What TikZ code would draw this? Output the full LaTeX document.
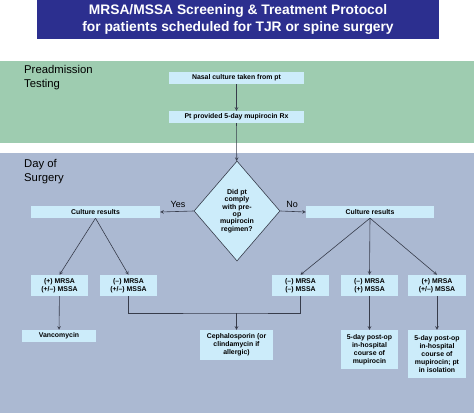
\documentclass[tikz,border=0pt]{standalone}
\usepackage{fontspec}
\setmainfont{Liberation Sans}
\usetikzlibrary{shapes.geometric}

\definecolor{titleblue}{RGB}{44,47,143}
\definecolor{preband}{RGB}{158,204,176}
\definecolor{dayband}{RGB}{171,185,210}
\definecolor{boxcyan}{RGB}{204,236,250}
\definecolor{linegray}{RGB}{55,60,75}

\tikzset{
  cbox/.style={fill=boxcyan,inner sep=0,align=center,font=\bfseries\fontsize{6.9}{8}\selectfont},
  link/.style={draw=linegray,line width=0.6pt},
  arr/.style={link,-stealth},
  band label/.style={anchor=north west,inner sep=0,align=left,font=\fontsize{11.3}{13.3}\selectfont},
}

\begin{document}
\begin{tikzpicture}[x=1pt,y=-1pt]
        \useasboundingbox (0,0) rectangle (474,417);
        % title and the two bands
        \fill[titleblue] (37,-2) rectangle (439,39);
        \node[text=white,align=center,font=\bfseries\fontsize{13.8}{17}\selectfont] (title) at (238,19.5) {MRSA/MSSA Screening \& Treatment Protocol\\for patients scheduled for TJR or spine surgery};
        \fill[preband] (0,61) rectangle (474,143);
        \fill[dayband] (0,153) rectangle (474,413);
        \node[band label] (pre) at (24,65.5) {Preadmission\\Testing};
        \node[band label] (day) at (24,159.5) {Day of\\Surgery};

        % boxes
        \node[cbox,minimum width=135,minimum height=12] (nasal) at (236.5,78) {Nasal culture taken from pt};
        \node[cbox,minimum width=135,minimum height=12] (rx) at (236.5,117) {Pt provided 5-day mupirocin Rx};
        \node[diamond,fill=boxcyan,draw=linegray,line width=0.6pt,inner sep=0,minimum width=86,minimum height=100,align=center,font=\bfseries\fontsize{7}{7.3}\selectfont] (comply) at (237,211) {Did pt\\comply\\with pre-\\op\\mupirocin\\regimen?};
        \node[cbox,minimum width=129,minimum height=12] (cleft) at (95.5,212) {Culture results};
        \node[cbox,minimum width=128,minimum height=12] (cright) at (370,212) {Culture results};
        \node[cbox,minimum width=57,minimum height=21] (r1) at (59.5,285.5) {(+) MRSA\\(+/--) MSSA};
        \node[cbox,minimum width=57,minimum height=21] (r2) at (128.5,285.5) {(--) MRSA\\(+/--) MSSA};
        \node[cbox,minimum width=57,minimum height=21] (r3) at (300.5,285.5) {(--) MRSA\\(--) MSSA};
        \node[cbox,minimum width=57,minimum height=21] (r4) at (369.5,285.5) {(--) MRSA\\(+) MSSA};
        \node[cbox,minimum width=58,minimum height=21] (r5) at (437,285.5) {(+) MRSA\\(+/--) MSSA};
        \node[cbox,minimum width=74,minimum height=12] (vanco) at (59,336) {Vancomycin};
        \node[cbox,minimum width=73,minimum height=30] (ceph) at (236.5,345) {Cephalosporin (or\\clindamycin if\\allergic)};
        \node[cbox,minimum width=57,minimum height=39] (post4) at (369.5,349.5) {5-day post-op\\in-hospital\\course of\\mupirocin};
        \node[cbox,minimum width=58,minimum height=48] (post5) at (437,354) {5-day post-op\\in-hospital\\course of\\mupirocin; pt\\in isolation};

        % connectors
        \draw[arr] (nasal) -- (rx);
        \draw[arr] (rx) -- (comply);
        \draw[arr] (comply.west) -- node[above,font=\fontsize{9}{10}\selectfont,xshift=1pt] {Yes} (cleft.east);
        \draw[arr] (comply.east) -- node[above,font=\fontsize{9}{10}\selectfont,xshift=-1pt] {No} (cright.west);
        \draw[arr] (cleft.south) -- (r1.north);
        \draw[arr] (cleft.south) -- (r2.north);
        \draw[arr] (cright.south) -- (r3.north);
        \draw[arr] (cright.south) -- (r4.north);
        \draw[arr] (cright.south) -- (r5.north);
        \draw[arr] (r1) -- (vanco);
        \coordinate (merge) at (236.5,313);
        \draw[link] (r2.south) |- (merge) -| (r3.south);
        \draw[arr] (merge) -- (ceph);
        \draw[arr] (r4) -- (post4);
        \draw[arr] (r5) -- (post5);
    \end{tikzpicture}
\end{document}
